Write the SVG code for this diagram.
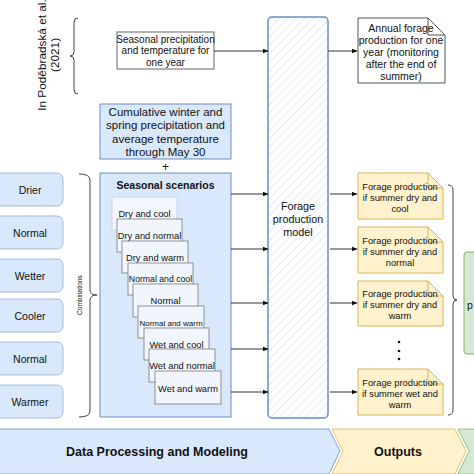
<svg xmlns="http://www.w3.org/2000/svg" width="474" height="474" viewBox="0 0 474 474">
<style>
text{font-family:"Liberation Sans",Arial,sans-serif;fill:#111;text-anchor:middle}
.blue{fill:#dae8fc;stroke:#6c8ebf;stroke-width:1}
.lbox{fill:#dae8fc;stroke:#a3bbe0;stroke-width:1}
.card{fill:#f1f5fc;stroke:#7a7a7a;stroke-width:0.8}
.note{fill:#fff2cc;stroke:#d6b656;stroke-width:1}
.fold{fill:none;stroke:#d6b656;stroke-width:1}
.conn{stroke:#333;stroke-width:1;fill:none}
.brace{stroke:#444;stroke-width:1;fill:none}
.t10{font-size:10px}
.t9{font-size:9.3px}
.b{font-weight:bold}
</style>
<defs>
<marker id="arr" markerWidth="6" markerHeight="6" refX="5.5" refY="3" orient="auto" markerUnits="userSpaceOnUse">
<path d="M0,0.5 L6,3 L0,5.5 Z" fill="#111"/>
</marker>
<pattern id="hatch" width="6" height="6" patternUnits="userSpaceOnUse" patternTransform="rotate(45)">
<rect width="6" height="6" fill="#ffffff"/>
<line x1="0" y1="0" x2="0" y2="6" stroke="#c9d6ea" stroke-width="1"/>
</pattern>
</defs>

<g id="citation">
<text transform="translate(46,55) rotate(-90)" font-size="11.8">In Poděbradská et al.</text>
<text transform="translate(59,55) rotate(-90)" font-size="11.8">(2021)</text>
</g>

<g id="braces">
<path class="brace" d="M78,18 Q74,18 74,22 L74,52 Q74,56 70,56 Q74,56 74,60 L74,90 Q74,94 78,94"/>
<path class="brace" d="M79,174 Q90,174 90,180 L90,290 Q90,295 97,295 Q90,295 90,300 L90,411 Q90,417 79,417"/>
<path class="brace" d="M448,185 Q453,185 453,190 L453,296 Q453,300 457,300 Q453,300 453,304 L453,410 Q453,415 448,415"/>
<text transform="translate(82,295) rotate(-90)" font-size="6.5">Combinations</text>
</g>

<g id="seasonal-precip">
<rect x="117" y="32" width="97" height="37" fill="#fff" stroke="#666" stroke-width="1"/>
<text class="t10" x="165.5" y="42.5">Seasonal precipitation</text>
<text class="t10" x="165.5" y="54">and temperature for</text>
<text class="t10" x="165.5" y="65.5">one year</text>
</g>

<g id="cumulative">
<rect class="blue" x="100" y="104" width="131" height="55"/>
<text font-size="11.5" x="165.5" y="116">Cumulative winter and</text>
<text font-size="11.5" x="165.5" y="129.3">spring precipitation and</text>
<text font-size="11.5" x="165.5" y="142.6">average temperature</text>
<text font-size="11.5" x="165.5" y="155.9">through May 30</text>
</g>

<g id="plus"><text font-size="12" x="165.5" y="171">+</text></g>

<g id="left-boxes">
<g id="drier"><rect class="lbox" x="-10" y="173" width="73" height="33" rx="6"/><text font-size="10.5" x="30" y="193.5">Drier</text></g>
<g id="normal-p"><rect class="lbox" x="-10" y="216" width="73" height="33" rx="6"/><text font-size="10.5" x="30" y="236.5">Normal</text></g>
<g id="wetter"><rect class="lbox" x="-10" y="259" width="73" height="33" rx="6"/><text font-size="10.5" x="30" y="279.5">Wetter</text></g>
<g id="cooler"><rect class="lbox" x="-10" y="299" width="73" height="33" rx="6"/><text font-size="10.5" x="30" y="319.5">Cooler</text></g>
<g id="normal-t"><rect class="lbox" x="-10" y="342" width="73" height="33" rx="6"/><text font-size="10.5" x="30" y="362.5">Normal</text></g>
<g id="warmer"><rect class="lbox" x="-10" y="385" width="73" height="33" rx="6"/><text font-size="10.5" x="30" y="405.5">Warmer</text></g>
</g>

<g id="seasonal-scenarios">
<rect class="blue" x="100" y="173" width="131" height="244"/>
<text class="b" font-size="10.5" x="165.5" y="189">Seasonal scenarios</text>
<g id="cards">
<rect x="112" y="197" width="65" height="33" fill="#f3f6fc" stroke="#c8cfd9" stroke-width="0.8"/><text class="t9" x="144.5" y="217">Dry and cool</text>
<rect class="card" x="117" y="219" width="65" height="33"/><text class="t9" x="149.5" y="239">Dry and normal</text>
<rect class="card" x="122" y="241" width="66" height="32"/><text class="t9" x="155" y="261">Dry and  warm</text>
<rect class="card" x="128" y="263" width="65" height="32"/><text font-size="8.7" x="160.5" y="282">Normal and cool</text>
<rect class="card" x="133" y="284" width="65" height="33"/><text class="t9" x="165.5" y="304">Normal</text>
<rect class="card" x="138" y="306" width="66" height="32"/><text font-size="8" x="171" y="326">Normal and warm</text>
<rect class="card" x="144" y="328" width="65" height="32"/><text class="t9" x="176.5" y="348">Wet and cool</text>
<rect class="card" x="149" y="349" width="66" height="33"/><text class="t9" x="182" y="369">Wet and normal</text>
<rect class="card" x="155" y="371" width="66" height="33"/><text class="t9" x="188" y="392">Wet and warm</text>
</g>
</g>

<g id="model">
<rect x="268" y="17" width="60" height="401" rx="4" fill="url(#hatch)" stroke="#6c8ebf" stroke-width="1.5"/>
<text font-size="10.8" x="298" y="210">Forage</text>
<text font-size="10.8" x="298" y="223">production</text>
<text font-size="10.8" x="298" y="236">model</text>
</g>

<g id="annual">
<path d="M358,18 L428,18 L445,35 L445,83 L358,83 Z" fill="#fff" stroke="#555" stroke-width="1"/>
<path d="M428,18 L428,35 L445,35" fill="none" stroke="#555" stroke-width="1"/>
<text font-size="10.5" x="401" y="32">Annual forage</text>
<text font-size="10.5" x="401" y="44">production for one</text>
<text font-size="10.5" x="401" y="56">year (monitoring</text>
<text font-size="10.5" x="401" y="68">after the end of</text>
<text font-size="10.5" x="401" y="80">summer)</text>
</g>

<g id="out1">
<path class="note" d="M358,173 L428,173 L443,188 L443,219 L358,219 Z"/><path class="fold" d="M428,173 L428,188 L443,188"/>
<text class="t9" x="400" y="189.5">Forage production</text>
<text class="t9" x="400" y="200.5">if summer dry and</text>
<text class="t9" x="400" y="211.5">cool</text>
</g>
<g id="out2">
<path class="note" d="M358,227 L428,227 L443,242 L443,273 L358,273 Z"/><path class="fold" d="M428,227 L428,242 L443,242"/>
<text class="t9" x="400" y="243.5">Forage production</text>
<text class="t9" x="400" y="254.5">if summer dry and</text>
<text class="t9" x="400" y="265.5">normal</text>
</g>
<g id="out3">
<path class="note" d="M358,281 L428,281 L443,296 L443,326 L358,326 Z"/><path class="fold" d="M428,281 L428,296 L443,296"/>
<text class="t9" x="400" y="297">Forage production</text>
<text class="t9" x="400" y="308">if summer dry and</text>
<text class="t9" x="400" y="319">warm</text>
</g>
<g id="dots">
<circle cx="399" cy="342" r="1.3" fill="#111"/>
<circle cx="399" cy="351" r="1.3" fill="#111"/>
<circle cx="399" cy="359" r="1.3" fill="#111"/>
</g>
<g id="out4">
<path class="note" d="M358,369 L428,369 L443,384 L443,415 L358,415 Z"/><path class="fold" d="M428,369 L428,384 L443,384"/>
<text class="t9" x="400" y="385.5">Forage production</text>
<text class="t9" x="400" y="396.5">if summer wet and</text>
<text class="t9" x="400" y="407.5">warm</text>
</g>

<g id="final">
<rect x="464" y="252" width="30" height="102" rx="3" fill="#d5e8d4" stroke="#82b366" stroke-width="1"/>
<text font-size="10.5" x="470" y="309">p</text>
</g>

<g id="connectors">
<line class="conn" x1="214" y1="51" x2="268" y2="51" marker-end="url(#arr)"/>
<line class="conn" x1="328" y1="51" x2="357" y2="51" marker-end="url(#arr)"/>
<line class="conn" x1="231" y1="194" x2="268" y2="194" marker-end="url(#arr)"/>
<line class="conn" x1="231" y1="249" x2="268" y2="249" marker-end="url(#arr)"/>
<line class="conn" x1="231" y1="303" x2="268" y2="303" marker-end="url(#arr)"/>
<line class="conn" x1="231" y1="349" x2="268" y2="349" marker-end="url(#arr)"/>
<line class="conn" x1="231" y1="392" x2="268" y2="392" marker-end="url(#arr)"/>
<line class="conn" x1="330" y1="194" x2="357" y2="194" marker-end="url(#arr)"/>
<line class="conn" x1="330" y1="249" x2="357" y2="249" marker-end="url(#arr)"/>
<line class="conn" x1="330" y1="303" x2="357" y2="303" marker-end="url(#arr)"/>
<line class="conn" x1="330" y1="392" x2="357" y2="392" marker-end="url(#arr)"/>
</g>

<g id="band">
<path d="M-5,429 L329,429 L340,451 L329,474 L-5,474 Z" fill="#dae8fc" stroke="#6c8ebf" stroke-width="0.8"/>
<path d="M332,429 L455,429 L466,451 L455,474 L332,474 L343,451 Z" fill="#fff2cc" stroke="#d6b656" stroke-width="0.8"/>
<path d="M458,429 L480,429 L480,474 L458,474 L469,451 Z" fill="#d5e8d4" stroke="#82b366" stroke-width="0.8"/>
<text class="b" font-size="12.5" x="157" y="456">Data Processing and Modeling</text>
<text class="b" font-size="12.5" x="398" y="456">Outputs</text>
</g>
</svg>
